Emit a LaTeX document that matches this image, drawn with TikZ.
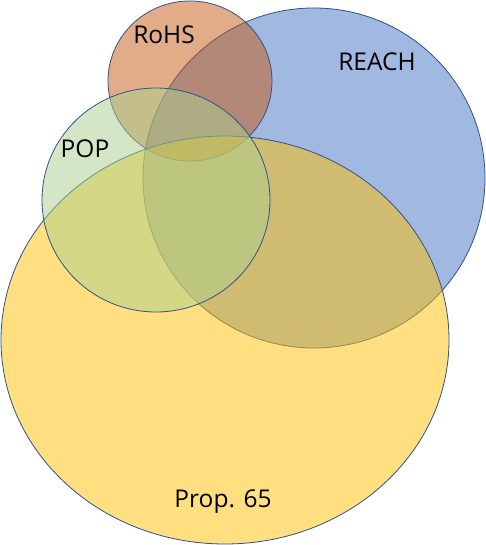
\documentclass[tikz,border=0pt]{standalone}
\usepackage{fontspec}
\setmainfont{Open Sans}
\definecolor{reachc}{HTML}{4472C4}
\definecolor{rohsc}{HTML}{C55A11}
\definecolor{propc}{HTML}{FFC000}
\definecolor{popc}{HTML}{A9D18E}
\definecolor{edgec}{HTML}{2F528F}
\begin{document}
\begin{tikzpicture}[x=1pt,y=-1pt,
  setshape/.style={draw=edgec, line width=0.8pt, fill opacity=0.5},
  lbl/.style={font=\fontsize{24.5}{28}\selectfont, text=black, inner sep=0pt}]
\useasboundingbox (0,0) rectangle (485,545);
\fill[white] (0,0) rectangle (485,545);
\path[setshape, fill=reachc] (314,178) ellipse [x radius=171, y radius=170];
\path[setshape, fill=rohsc] (190,81) ellipse [x radius=82, y radius=80];
\path[setshape, fill=propc] (225,340) ellipse [x radius=224, y radius=204];
\path[setshape, fill=popc] (156,200) ellipse [x radius=114, y radius=112];
\node[lbl] (rohs) at (164,35) {RoHS};
\node[lbl] (pop) at (85,149) {POP};
\node[lbl] (reach) at (377,62) {REACH};
\node[lbl] (prop) at (223,502) {Prop. 65};
\end{tikzpicture}
\end{document}
